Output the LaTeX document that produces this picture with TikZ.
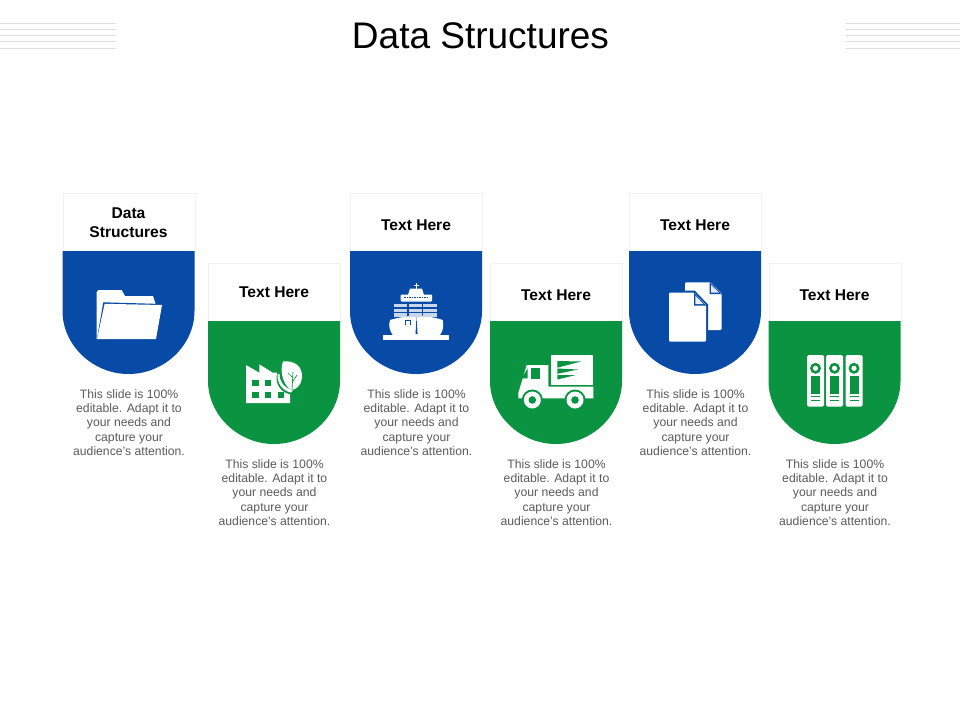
\documentclass[tikz,border=0pt]{standalone}
\usepackage{fontspec}
\setmainfont{Liberation Sans}
\usepackage{xcolor}
\definecolor{cardblue}{HTML}{074BA6}
\definecolor{cardgreen}{HTML}{0A9341}
\definecolor{bodygray}{HTML}{5A5A5A}
\definecolor{rulegray}{HTML}{DEDEDE}
\tikzset{
  titletext/.style={font=\fontsize{37}{40}\selectfont, text=black},
  headbox/.style={draw=black!5, line width=1.2pt, fill=white, minimum width=132pt, minimum height=58pt, inner sep=0pt},
  headtext/.style={font=\bfseries\fontsize{15.6}{19}\selectfont, text=black, align=center, inner sep=0pt},
  blurbtext/.style={font=\fontsize{12.2}{14.3}\selectfont, text=bodygray, align=center, inner sep=0pt},
  cornerrule/.style={rulegray, line width=1pt},
  icon/.style={fill=white, draw=none}
}
\begin{document}
\begin{tikzpicture}[x=1pt,y=-1pt]
  \useasboundingbox (0,0) rectangle (960,720);

  % Title and corner rules
  \node[titletext] (title) at (480.5,36) {Data Structures};
  \foreach \ry in {23.5,29.5,35.5,41.5,48} {
    \draw[cornerrule] (0,\ry) -- (116,\ry);
    \draw[cornerrule] (846,\ry) -- (960,\ry);
  }

  % Cards
  \foreach \cname/\cx/\cy/\ccol/\ctext/\ty in {
    one/62.5/193/cardblue/{Data\\Structures}/222.5,
    two/208/263/cardgreen/{Text Here}/292,
    three/350/193/cardblue/{Text Here}/225,
    four/490/263/cardgreen/{Text Here}/295,
    five/629/193/cardblue/{Text Here}/225,
    six/768.5/263/cardgreen/{Text Here}/295} {
    \node[headbox, anchor=north west] (head\cname) at (\cx,\cy) {};
    \fill[\ccol] (\cx,\cy) ++(0,58) -- ++(132,0) -- ++(0,60)
      .. controls +(0,34) and +(36,0) .. ++(-66,63)
      .. controls +(-36,0) and +(0,34) .. ++(-66,-63) -- cycle;
    \node[headtext] (label\cname) at (\cx+66,\ty) {\ctext};
    \node[blurbtext] (blurb\cname) at (\cx+66.5,\cy+229.5)
      {This slide is 100\%\\editable. Adapt it to\\your needs and\\capture your\\audience's attention.};
  }

  % Folder
  \fill[icon] (96.7,292) -- ++(2,-2) -- (121.7,290) -- (125,296) -- (153,296) -- (155.3,303) -- (155.3,325) -- (96.7,339) -- cycle;
  \fill[cardblue] (96.9,339) -- (103.3,302.3) -- (162,304) -- (156,325) -- cycle;
  \fill[icon] (97,339) -- (104.6,303.8) -- (162,305) -- (156,339) -- cycle;

  % Factory and leaf
  \fill[icon] (246,365) -- (259.3,372.7) -- (259.3,364.3) -- (272.7,372.7) -- (284,372.7) -- (290,392) -- (290,403) -- (246,403) -- cycle;
  \fill[cardgreen] (293,378) circle[radius=16.5];
  \fill[icon] (291,392.5) .. controls (283,391) and (277,384) .. (277.5,374)
    -- (279.5,374) .. controls (279.5,382) and (284,388) .. (293,390) -- cycle;
  \fill[icon] (283,361.5) .. controls (295,360) and (303,367) .. (302,378)
    .. controls (301,385) and (297,389) .. (292,390)
    .. controls (284,387) and (279,372) .. cycle;
  \draw[cardgreen, line width=0.7pt] (292,390) -- (293,372) (293,381) -- (297,375) (293,378) -- (288,373);
  \foreach \wx/\wy in {252.3/380,265/380,252.3/392,265/392,278/392}
    \fill[cardgreen] (\wx,\wy) rectangle ++(6.3,5.8);

  % Ship
  \fill[icon] (382.7,335) rectangle (449,340);
  \fill[icon] (390,320) .. controls (400,317) and (410,316) .. (416.7,315)
    .. controls (424,316) and (434,317) .. (442.7,320)
    .. controls (444,326) and (443,331) .. (440,335) -- (392.7,335)
    .. controls (390,331) and (388,326) .. cycle;
  \fill[cardblue] (416.5,317) -- (417.6,334) -- (415.5,334) -- cycle;
  \draw[cardblue, line width=0.8pt] (405,325) -- (405,320.5) -- (410,320.5) -- (410,325);
  \foreach \kx in {394,408.7,423.4}
    \foreach \ky in {303.5,308.5,313.2}
      \fill[white!78!cardblue] (\kx,\ky) rectangle ++(13.2,3.6);
  \fill[icon, rounded corners=1pt] (400.7,294.5) rectangle (432,301.7);
  \fill[icon] (408,295) -- (410,288.5) -- (422,288.5) -- (424,295) -- cycle;
  \draw[white, line width=1pt] (416,283) -- (416,289) (413.5,285.5) -- (418.5,285.5);
  \draw[cardblue, line width=0.5pt, dash pattern=on 1.5pt off 1pt] (404,297.5) -- (429,297.5);

  % Truck
  \fill[icon] (550.7,355) rectangle (593.3,385);
  \fill[icon] (518.3,398.3) -- (518.3,393) -- (526.7,365) -- (548.3,365) -- (548.3,386.7) -- (593.3,386.7) -- (593.3,398.3) -- cycle;
  \fill[cardgreen] (521.7,378.3) -- (527.7,368.3) -- (527.7,378.3) -- cycle;
  \fill[cardgreen] (530.7,368.3) rectangle (540,379.3);
  \fill[cardgreen] (557.3,361) -- (581,361.5) -- (557.3,367.7) -- cycle;
  \fill[cardgreen] (557.3,368.5) -- (578,369.5) -- (557.3,373.8) -- cycle;
  \fill[cardgreen] (557.3,375) -- (575,375.2) -- (557.3,379.5) -- cycle;
  \foreach \wx in {532.3,575} {
    \fill[cardgreen] (\wx,400) circle[radius=10.5];
    \fill[icon] (\wx,400) circle[radius=8.5];
    \fill[cardgreen] (\wx,400) circle[radius=3.8];
  }

  % Documents
  \fill[icon, rounded corners=1pt] (685,282.3) -- (710,282.3) -- (721.7,293.3) -- (721.7,330) -- (685,330) -- cycle;
  \fill[cardblue] (709.5,282.3) -- (709.5,294) -- (722,294) -- cycle;
  \fill[white!90!cardblue] (711,285) -- (711,292.5) -- (719,292.5) -- cycle;
  \fill[cardblue] (667,290.7) -- (694.8,290.7) -- (708,304.5) -- (708,343.7) -- (667,343.7) -- cycle;
  \fill[icon, rounded corners=1pt] (669,292.7) -- (694.3,292.7) -- (706,305) -- (706,341.7) -- (669,341.7) -- cycle;
  \fill[cardblue] (694,292.7) -- (694,305.5) -- (706,305.5) -- cycle;
  \fill[white!90!cardblue] (695.3,295.5) -- (695.3,304.2) -- (703.5,304.2) -- cycle;

  % Binders
  \foreach \bx in {807,826,845.5} {
    \fill[icon, rounded corners=1.5pt] (\bx,355) rectangle ++(17,51.7);
    \fill[cardgreen] (\bx+8.5,368.3) circle[radius=5.5];
    \fill[icon] (\bx+8.5,368.3) circle[radius=2.6];
    \fill[cardgreen] (\bx+4,375.7) rectangle ++(9,18.6);
    \fill[cardgreen] (\bx+4,396) rectangle ++(9,1.4);
    \fill[cardgreen] (\bx+4,400) rectangle ++(9,1.4);
  }
\end{tikzpicture}
\end{document}
